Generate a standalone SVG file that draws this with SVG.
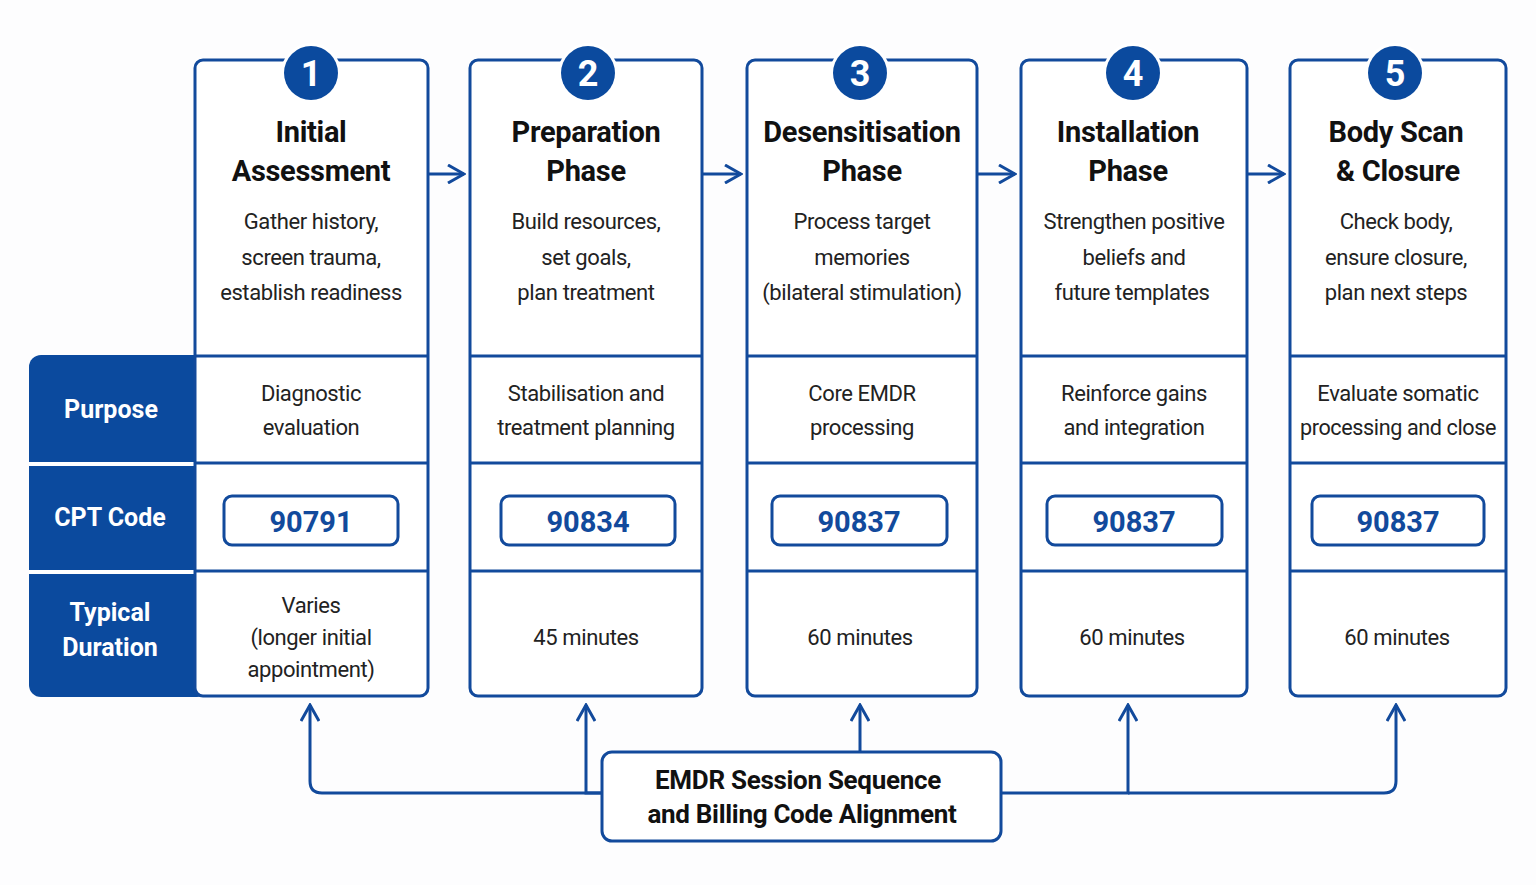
<svg xmlns="http://www.w3.org/2000/svg" width="1536" height="885" viewBox="0 0 1536 885">
<defs>
<style>
.col{fill:#fff;stroke:#124a9c;stroke-width:3}
.div{stroke:#124a9c;stroke-width:3}
.num{fill:#fff;font-family:Roboto,sans-serif;font-weight:bold;font-size:36px;text-anchor:middle}
.title{fill:#111;font-family:Roboto,sans-serif;font-weight:bold;font-size:29px;text-anchor:middle;letter-spacing:-0.3px}
.desc{fill:#222;font-family:Roboto,sans-serif;font-size:22px;text-anchor:middle;letter-spacing:-0.4px}
.lab{fill:#fff;font-family:Roboto,sans-serif;font-weight:bold;font-size:25px;text-anchor:middle}
.code{fill:#fff;stroke:#124a9c;stroke-width:3}
.codet{fill:#124a9c;font-family:Roboto,sans-serif;font-weight:bold;font-size:29px;text-anchor:middle}
.con{fill:none;stroke:#124a9c;stroke-width:3}
</style>
<marker id="ah2" viewBox="0 0 20 20" refX="18" refY="10" markerWidth="20" markerHeight="20" markerUnits="userSpaceOnUse" orient="auto"><path d="M2,1 L18,10 L2,19" fill="none" stroke="#124a9c" stroke-width="3"/></marker>
</defs>
<rect width="1536" height="885" fill="#fdfdfe"/>
<g id="labels">
<rect x="29" y="355" width="180" height="342" rx="12" fill="#0b4a9e"/>
<line x1="29" y1="464" x2="195" y2="464" stroke="#fff" stroke-width="4"/>
<line x1="29" y1="572" x2="195" y2="572" stroke="#fff" stroke-width="4"/>
<text class="lab" x="111" y="418">Purpose</text>
<text class="lab" x="110" y="526">CPT Code</text>
<text class="lab" x="110" y="621">Typical</text>
<text class="lab" x="110" y="656">Duration</text>
</g>
<g id="col1">
<rect class="col" x="195" y="60" width="233" height="636" rx="8"/>
<line class="div" x1="195" y1="356" x2="428" y2="356"/><line class="div" x1="195" y1="463" x2="428" y2="463"/><line class="div" x1="195" y1="571" x2="428" y2="571"/>
<circle cx="311" cy="73" r="30" fill="#fff"/><circle cx="311" cy="73" r="27" fill="#0b4a9e"/>
<text class="num" x="311" y="86">1</text>
<text class="title" x="311" y="142">Initial</text><text class="title" x="311" y="181">Assessment</text>
<text class="desc" x="311" y="229">Gather history,</text><text class="desc" x="311" y="265">screen trauma,</text><text class="desc" x="311" y="300">establish readiness</text>
<text class="desc" x="311" y="401">Diagnostic</text><text class="desc" x="311" y="435">evaluation</text>
<rect class="code" x="224" y="496" width="174" height="49" rx="8"/><text class="codet" x="311" y="532">90791</text>
<text class="desc" x="311" y="613">Varies</text><text class="desc" x="311" y="645">(longer initial</text><text class="desc" x="311" y="677">appointment)</text>
</g>
<g id="col2">
<rect class="col" x="470" y="60" width="232" height="636" rx="8"/>
<line class="div" x1="470" y1="356" x2="702" y2="356"/><line class="div" x1="470" y1="463" x2="702" y2="463"/><line class="div" x1="470" y1="571" x2="702" y2="571"/>
<circle cx="588" cy="73" r="30" fill="#fff"/><circle cx="588" cy="73" r="27" fill="#0b4a9e"/>
<text class="num" x="588" y="86">2</text>
<text class="title" x="586" y="142">Preparation</text><text class="title" x="586" y="181">Phase</text>
<text class="desc" x="586" y="229">Build resources,</text><text class="desc" x="586" y="265">set goals,</text><text class="desc" x="586" y="300">plan treatment</text>
<text class="desc" x="586" y="401">Stabilisation and</text><text class="desc" x="586" y="435">treatment planning</text>
<rect class="code" x="501" y="496" width="174" height="49" rx="8"/><text class="codet" x="588" y="532">90834</text>
<text class="desc" x="586" y="645">45 minutes</text>
</g>
<g id="col3">
<rect class="col" x="747" y="60" width="230" height="636" rx="8"/>
<line class="div" x1="747" y1="356" x2="977" y2="356"/><line class="div" x1="747" y1="463" x2="977" y2="463"/><line class="div" x1="747" y1="571" x2="977" y2="571"/>
<circle cx="860" cy="73" r="30" fill="#fff"/><circle cx="860" cy="73" r="27" fill="#0b4a9e"/>
<text class="num" x="860" y="86">3</text>
<text class="title" x="862" y="142">Desensitisation</text><text class="title" x="862" y="181">Phase</text>
<text class="desc" x="862" y="229">Process target</text><text class="desc" x="862" y="265">memories</text><text class="desc" x="862" y="300">(bilateral stimulation)</text>
<text class="desc" x="862" y="401">Core EMDR</text><text class="desc" x="862" y="435">processing</text>
<rect class="code" x="772" y="496" width="175" height="49" rx="8"/><text class="codet" x="859" y="532">90837</text>
<text class="desc" x="860" y="645">60 minutes</text>
</g>
<g id="col4">
<rect class="col" x="1021" y="60" width="226" height="636" rx="8"/>
<line class="div" x1="1021" y1="356" x2="1247" y2="356"/><line class="div" x1="1021" y1="463" x2="1247" y2="463"/><line class="div" x1="1021" y1="571" x2="1247" y2="571"/>
<circle cx="1133" cy="73" r="30" fill="#fff"/><circle cx="1133" cy="73" r="27" fill="#0b4a9e"/>
<text class="num" x="1133" y="86">4</text>
<text class="title" x="1128" y="142">Installation</text><text class="title" x="1128" y="181">Phase</text>
<text class="desc" x="1134" y="229">Strengthen positive</text><text class="desc" x="1134" y="265">beliefs and</text><text class="desc" x="1132" y="300">future templates</text>
<text class="desc" x="1134" y="401">Reinforce gains</text><text class="desc" x="1134" y="435">and integration</text>
<rect class="code" x="1047" y="496" width="175" height="49" rx="8"/><text class="codet" x="1134" y="532">90837</text>
<text class="desc" x="1132" y="645">60 minutes</text>
</g>
<g id="col5">
<rect class="col" x="1290" y="60" width="216" height="636" rx="8"/>
<line class="div" x1="1290" y1="356" x2="1506" y2="356"/><line class="div" x1="1290" y1="463" x2="1506" y2="463"/><line class="div" x1="1290" y1="571" x2="1506" y2="571"/>
<circle cx="1395" cy="73" r="30" fill="#fff"/><circle cx="1395" cy="73" r="27" fill="#0b4a9e"/>
<text class="num" x="1395" y="86">5</text>
<text class="title" x="1396" y="142">Body Scan</text><text class="title" x="1398" y="181">&amp; Closure</text>
<text class="desc" x="1396" y="229">Check body,</text><text class="desc" x="1396" y="265">ensure closure,</text><text class="desc" x="1396" y="300">plan next steps</text>
<text class="desc" x="1398" y="401">Evaluate somatic</text><text class="desc" x="1398" y="435" textLength="196" lengthAdjust="spacingAndGlyphs">processing and close</text>
<rect class="code" x="1312" y="496" width="172" height="49" rx="8"/><text class="codet" x="1398" y="532">90837</text>
<text class="desc" x="1397" y="645">60 minutes</text>
</g>
<g id="connectors">
<line class="con" x1="428" y1="174" x2="464" y2="174" marker-end="url(#ah2)"/>
<line class="con" x1="702" y1="174" x2="741" y2="174" marker-end="url(#ah2)"/>
<line class="con" x1="977" y1="174" x2="1015" y2="174" marker-end="url(#ah2)"/>
<line class="con" x1="1247" y1="174" x2="1284" y2="174" marker-end="url(#ah2)"/>
<path class="con" d="M602,793 H322 Q310,793 310,781 V705" marker-end="url(#ah2)"/>
<path class="con" d="M602,793 H586 V705" marker-end="url(#ah2)"/>
<path class="con" d="M860,752 V705" marker-end="url(#ah2)"/>
<path class="con" d="M1001,793 H1128 V705" marker-end="url(#ah2)"/>
<path class="con" d="M1128,793 H1384 Q1396,793 1396,781 V705" marker-end="url(#ah2)"/>
</g>
<g id="title-box">
<rect x="602" y="752" width="399" height="89" rx="10" fill="#fff" stroke="#124a9c" stroke-width="3"/>
<text class="title" x="798" y="789" style="font-size:26px">EMDR Session Sequence</text>
<text class="title" x="802" y="823" style="font-size:26px">and Billing Code Alignment</text>
</g>
</svg>
